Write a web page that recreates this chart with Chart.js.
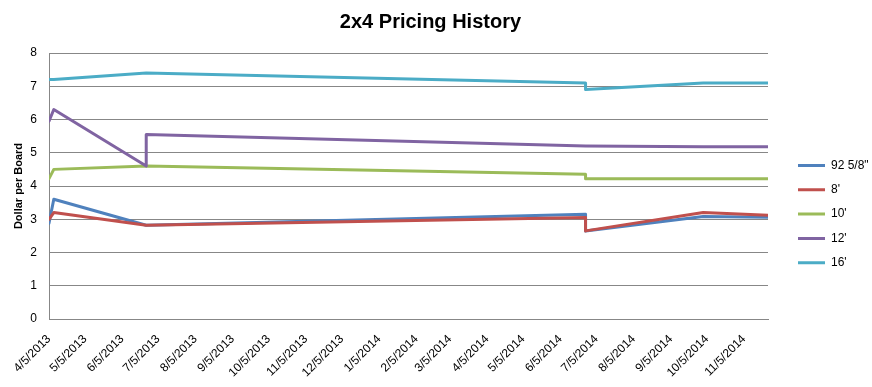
<!DOCTYPE html>
<html><head><meta charset="utf-8">
<script src="https://cdn.jsdelivr.net/npm/chart.js@4.4.1/dist/chart.umd.min.js"></script>
<style>html,body{margin:0;padding:0;background:#fff;overflow:hidden}</style>
</head><body>
<canvas id="c" width="872" height="387"></canvas>
<script>
// ---- data ----
const dates = ['4/5/2013','4/9/2013','6/25/2013','6/25/2013','6/26/2014','6/26/2014','10/2/2014','11/25/2014'];
const tickLabels = ['4/5/2013','5/5/2013','6/5/2013','7/5/2013','8/5/2013','9/5/2013','10/5/2013','11/5/2013','12/5/2013',
  '1/5/2014','2/5/2014','3/5/2014','4/5/2014','5/5/2014','6/5/2014','7/5/2014','8/5/2014','9/5/2014','10/5/2014','11/5/2014'];
const axisStart = '4/5/2013';
const axisEnd = '11/25/2014';
const seriesNames = ['92 5/8"', "8'", "10'", "12'", "16'"];
const price9258 = [2.88, 3.60, 2.82, 2.82, 3.15, 2.65, 3.08, 3.06];
const price8 = [3.00, 3.20, 2.82, 2.82, 3.05, 2.65, 3.20, 3.12];
const price10 = [4.22, 4.50, 4.60, 4.60, 4.35, 4.22, 4.22, 4.22];
const price12 = [5.95, 6.30, 4.60, 5.55, 5.20, 5.20, 5.18, 5.18];
const price16 = [7.20, 7.20, 7.40, 7.40, 7.10, 6.90, 7.10, 7.10];
const yTicks = [0, 1, 2, 3, 4, 5, 6, 7, 8];

// ---- styles ----
const colors = ['#4F81BD', '#C0504D', '#9BBB59', '#8064A2', '#4BACC6'];
const FONT = "'Liberation Sans', Arial, sans-serif";
const GRID = '#878787';

function toDay(s) { const [m, d, y] = s.split('/').map(Number); return Date.UTC(y, m - 1, d) / 86400000; }
const xs = dates.map(toDay);
const tickDays = tickLabels.map(toDay);
const allSeries = [price9258, price8, price10, price12, price16];

const datasets = allSeries.map((vals, i) => ({
  label: seriesNames[i],
  data: vals.map((v, j) => ({ x: xs[j], y: v })),
  borderColor: colors[i],
  backgroundColor: colors[i],
  borderWidth: 3,
  pointRadius: 0,
  tension: 0,
  borderJoinStyle: 'round',
  borderCapStyle: 'round',
  order: allSeries.length - i
}));

const PLOT_RIGHT = 768;
const LEGEND_ITEM_X = 798, LEGEND_ITEM_Y = 159.5;
// reserve a fixed gap to the right of the plot, then place the legend column
const legendPlace = {
  id: 'legendPlace',
  beforeLayout(chart) {
    chart.options.layout.padding = { left: 0, top: 0, bottom: 0, right: 0 };
  },
  afterLayout(chart) {
    const l = chart.legend; if (!l) return;
    const pad = l.options.labels.padding;
    const colH = l.columnSizes && l.columnSizes[0] ? l.columnSizes[0].height : 0;
    const curY = ((l.top + pad) + (l.bottom - colH)) / 2;
    const dx = LEGEND_ITEM_X - (l.left + pad);
    const dy = LEGEND_ITEM_Y - curY;
    l.left += dx; l.right += dx; l.top += dy; l.bottom += dy;
  }
};

const chart = new Chart(document.getElementById('c'), {
  type: 'line',
  data: { datasets },
  plugins: [legendPlace],
  options: {
    responsive: false,
    animation: false,
    devicePixelRatio: 1,
    layout: { padding: 0 },
    plugins: {
      title: {
        display: true, text: '2x4 Pricing History', color: '#000',
        font: { family: FONT, size: 20, weight: 'bold' },
        padding: { top: 10, bottom: 19 }
      },
      legend: {
        position: 'right', align: 'center',
        labels: {
          font: { family: FONT, size: 12 }, color: '#000',
          boxWidth: 27, boxHeight: 3, padding: 12.3,
          generateLabels: (chart) => chart.data.datasets.map((ds, i) => ({
            text: ds.label, fillStyle: ds.borderColor, strokeStyle: ds.borderColor,
            lineWidth: 0, hidden: false, datasetIndex: i, fontColor: '#000'
          }))
        }
      },
      tooltip: { enabled: false }
    },
    scales: {
      x: {
        type: 'linear',
        min: toDay(axisStart), max: toDay(axisEnd),
        afterBuildTicks: (s) => { s.ticks = tickDays.map(v => ({ value: v })); },
        afterFit: (s) => { s.height = 68; },
        ticks: {
          autoSkip: false, maxRotation: 45, minRotation: 45, padding: 5,
          font: { family: FONT, size: 12 }, color: '#000',
          callback: (v, i) => tickLabels[i]
        },
        grid: { display: false },
        border: { display: true, color: GRID, width: 1 }
      },
      y: {
        min: 0, max: 8,
        afterBuildTicks: (s) => { s.ticks = yTicks.map(v => ({ value: v })); },
        afterFit: (s) => { s.width = 49; },
        ticks: { font: { family: FONT, size: 12 }, color: '#000', padding: 12 },
        grid: { color: GRID, drawTicks: false },
        border: { display: true, color: GRID, width: 1 },
        title: {
          display: true, text: 'Dollar per Board', color: '#000',
          font: { family: FONT, size: 11, weight: 'bold' },
          padding: { top: 12, bottom: 0 }
        }
      }
    }
  }
});
// widen the right-side reserve so the plot ends at PLOT_RIGHT
const extra = chart.chartArea.right - PLOT_RIGHT;
if (Math.abs(extra) > 0.5) {
  chart.options.layout.padding = { left: 0, top: 0, bottom: 0, right: extra };
  legendPlace.beforeLayout = function () {};
  chart.update('none');
}
</script>
</body></html>
